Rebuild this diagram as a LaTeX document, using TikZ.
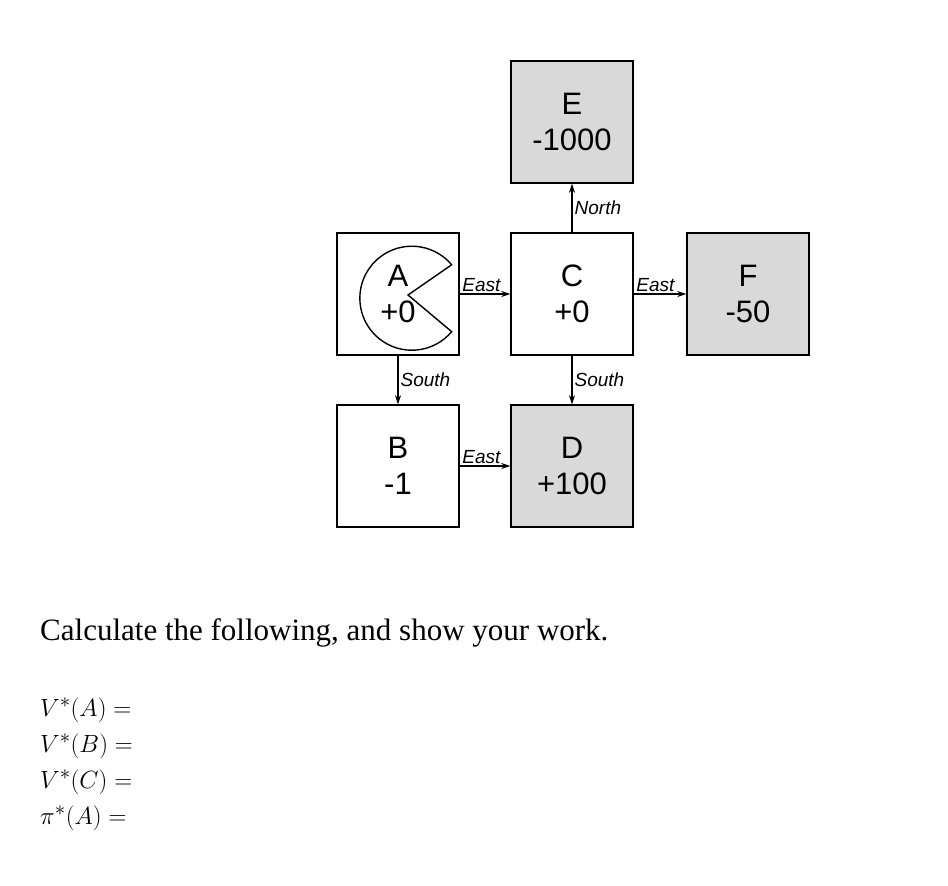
\documentclass[tikz,border=0pt]{standalone}
\usepackage{fontspec}
\setmainfont{Liberation Serif}
\newfontfamily\arialf{Liberation Sans}
\usetikzlibrary{arrows.meta}
\begin{document}
\begin{tikzpicture}[x=1pt,y=-1pt,
  box/.style={draw,line width=1.4pt,minimum size=122pt,inner sep=0pt,font=\arialf\fontsize{31}{36}\selectfont,align=center},
  gbox/.style={box,fill=gray!30},
  arr/.style={line width=1.3pt,-{Stealth[length=9pt,width=6pt]}},
  lab/.style={font=\arialf\itshape\fontsize{19}{21}\selectfont,inner sep=2pt}]
\useasboundingbox (0,0) rectangle (948,886);
\node[box] (A) at (398,294) {};
\draw[line width=1.4pt,fill=white] (408,295) -- ++(40:57) arc (40:320:52) -- cycle;
\node[font=\arialf\fontsize{31}{36}\selectfont,align=center] (At) at (398,294) {A\\+0};
\node[box] (C) at (572,294) {C\\+0};
\node[gbox] (E) at (572,122) {E\\-1000};
\node[gbox] (F) at (748,294) {F\\-50};
\node[box] (B) at (398,466) {B\\-1};
\node[gbox] (D) at (572,466) {D\\+100};
\draw[arr] (A) -- node[lab,pos=0,anchor=south west] {East} (C);
\draw[arr] (C) -- node[lab,pos=0,anchor=south west] {East} (F);
\draw[arr] (B) -- node[lab,pos=0,anchor=south west] {East} (D);
\draw[arr] (C) -- node[lab,right] {North} (E);
\draw[arr] (A) -- node[lab,right] {South} (B);
\draw[arr] (C) -- node[lab,right] {South} (D);
\node[anchor=west,font=\fontsize{31}{36}\selectfont,inner sep=0pt] (q) at (40,633) {Calculate the following, and show your work.};
\node[anchor=west,font=\fontsize{29}{34}\selectfont,inner sep=0pt] (v1) at (40,710) {$V^*(A) =$};
\node[anchor=west,font=\fontsize{29}{34}\selectfont,inner sep=0pt] (v2) at (40,746) {$V^*(B) =$};
\node[anchor=west,font=\fontsize{29}{34}\selectfont,inner sep=0pt] (v3) at (40,782) {$V^*(C) =$};
\node[anchor=west,font=\fontsize{29}{34}\selectfont,inner sep=0pt] (v4) at (40,818) {$\pi^*(A) =$};
\end{tikzpicture}
\end{document}
